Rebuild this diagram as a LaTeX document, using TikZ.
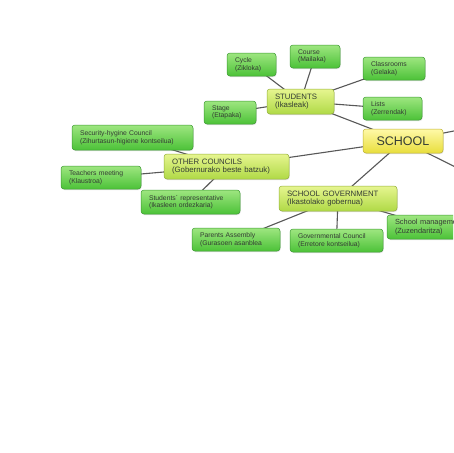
\documentclass[tikz,border=0pt]{standalone}
\usepackage{fontspec}
\setmainfont{Liberation Sans}
\usetikzlibrary{shadows,backgrounds}
\definecolor{lgreenT}{HTML}{9EE680}
\definecolor{lgreenB}{HTML}{4CC238}
\definecolor{lgreenD}{HTML}{3C9A32}
\definecolor{ygreenT}{HTML}{E6F590}
\definecolor{ygreenB}{HTML}{B0DA46}
\definecolor{ygreenD}{HTML}{94B03A}
\definecolor{yelT}{HTML}{FFF9A8}
\definecolor{yelB}{HTML}{E8DE3C}
\definecolor{yelD}{HTML}{BEB232}
\definecolor{txt}{HTML}{343C34}
\definecolor{wire}{HTML}{585858}
\tikzset{
  base/.style={rectangle, rounded corners=3pt, inner xsep=8pt, inner ysep=2pt,
    align=left, text=txt,
    drop shadow={shadow xshift=0.6pt, shadow yshift=-1pt, opacity=0.25}},
  leaf/.style={base, draw=lgreenD, line width=0.5pt, top color=lgreenT, bottom color=lgreenB,
    font=\fontsize{6.8}{7.6}\selectfont, minimum height=23pt},
  mid/.style={base, draw=ygreenD, line width=0.5pt, top color=ygreenT, bottom color=ygreenB,
    font=\fontsize{7.8}{8.8}\selectfont, minimum height=25pt},
  root/.style={base, draw=yelD, line width=0.5pt, top color=yelT, bottom color=yelB,
    font=\fontsize{12.5}{13}\selectfont, align=center, minimum width=80pt, minimum height=24pt},
  wireline/.style={draw=wire, line width=1.1pt}
}
\begin{document}
\begin{tikzpicture}[x=1pt, y=-1pt]
\useasboundingbox (0,0) rectangle (453,453);
\clip (0,0) rectangle (453,453);

% nodes
\node[root] (school) at (403,141) {SCHOOL};
\node[mid, text width=51pt] (students) at (300.5,101.5) {STUDENTS\\(Ikasleak)};
\node[mid, text width=109pt] (other) at (226.5,166.5) {OTHER COUNCILS\\(Gobernurako beste batzuk)};
\node[mid, text width=102pt] (schgov) at (338,198.5) {SCHOOL GOVERNMENT\\(Ikastolako gobernua)};

\node[leaf, text width=33pt] (cycle) at (251.5,64.5) {Cycle\\(Zikloka)};
\node[leaf, text width=34pt] (course) at (315,56.5) {Course\\(Mailaka)};
\node[leaf, text width=46pt] (class) at (394,68.5) {Classrooms\\(Gelaka)};
\node[leaf, text width=36pt] (stage) at (230,112.5) {Stage\\(Etapaka)};
\node[leaf, text width=43pt] (lists) at (392.5,108.5) {Lists\\(Zerrendak)};

\node[leaf, text width=105pt, minimum height=25pt] (security) at (132.5,137.5) {Security-hygine Council\\(Zihurtasun-higiene kontseilua)};
\node[leaf, text width=64pt] (teachers) at (101,177.5) {Teachers meeting\\(Klaustroa)};
\node[leaf, text width=83pt, minimum height=24pt] (studrep) at (190.5,202) {Students´ representative\\(Ikasleen ordezkaria)};

\node[leaf, text width=72pt] (parents) at (236,239.5) {Parents Assembly\\(Gurasoen asanblea};
\node[leaf, text width=77pt] (govc) at (336.5,240.5) {Governmental Council\\(Erretore kontseilua)};
\node[leaf, text width=80pt, minimum height=24pt, font=\fontsize{7.4}{8.2}\selectfont] (mgmt) at (435,227) {School management\\(Zuzendaritza)};

\coordinate (offA) at (520,118);
\coordinate (offB) at (520,199);

% connectors (behind nodes)
\begin{scope}[on background layer]
\fill[white] (0,0) rectangle (453,453);
\draw[wireline] (school.center) -- (students.center);
\draw[wireline] (school.center) -- (other.center);
\draw[wireline] (school.center) -- (schgov.center);
\draw[wireline] (school.center) -- (offA);
\draw[wireline] (school.center) -- (offB);
\draw[wireline] (students.center) -- (cycle.center);
\draw[wireline] (students.center) -- (course.center);
\draw[wireline] (students.center) -- (class.center);
\draw[wireline] (students.center) -- (stage.center);
\draw[wireline] (students.center) -- (lists.center);
\draw[wireline] (other.center) -- (security.center);
\draw[wireline] (other.center) -- (teachers.center);
\draw[wireline] (other.center) -- (studrep.center);
\draw[wireline] (schgov.center) -- (parents.center);
\draw[wireline] (schgov.center) -- (govc.center);
\draw[wireline] (schgov.center) -- (mgmt.center);
\end{scope}
\end{tikzpicture}
\end{document}
